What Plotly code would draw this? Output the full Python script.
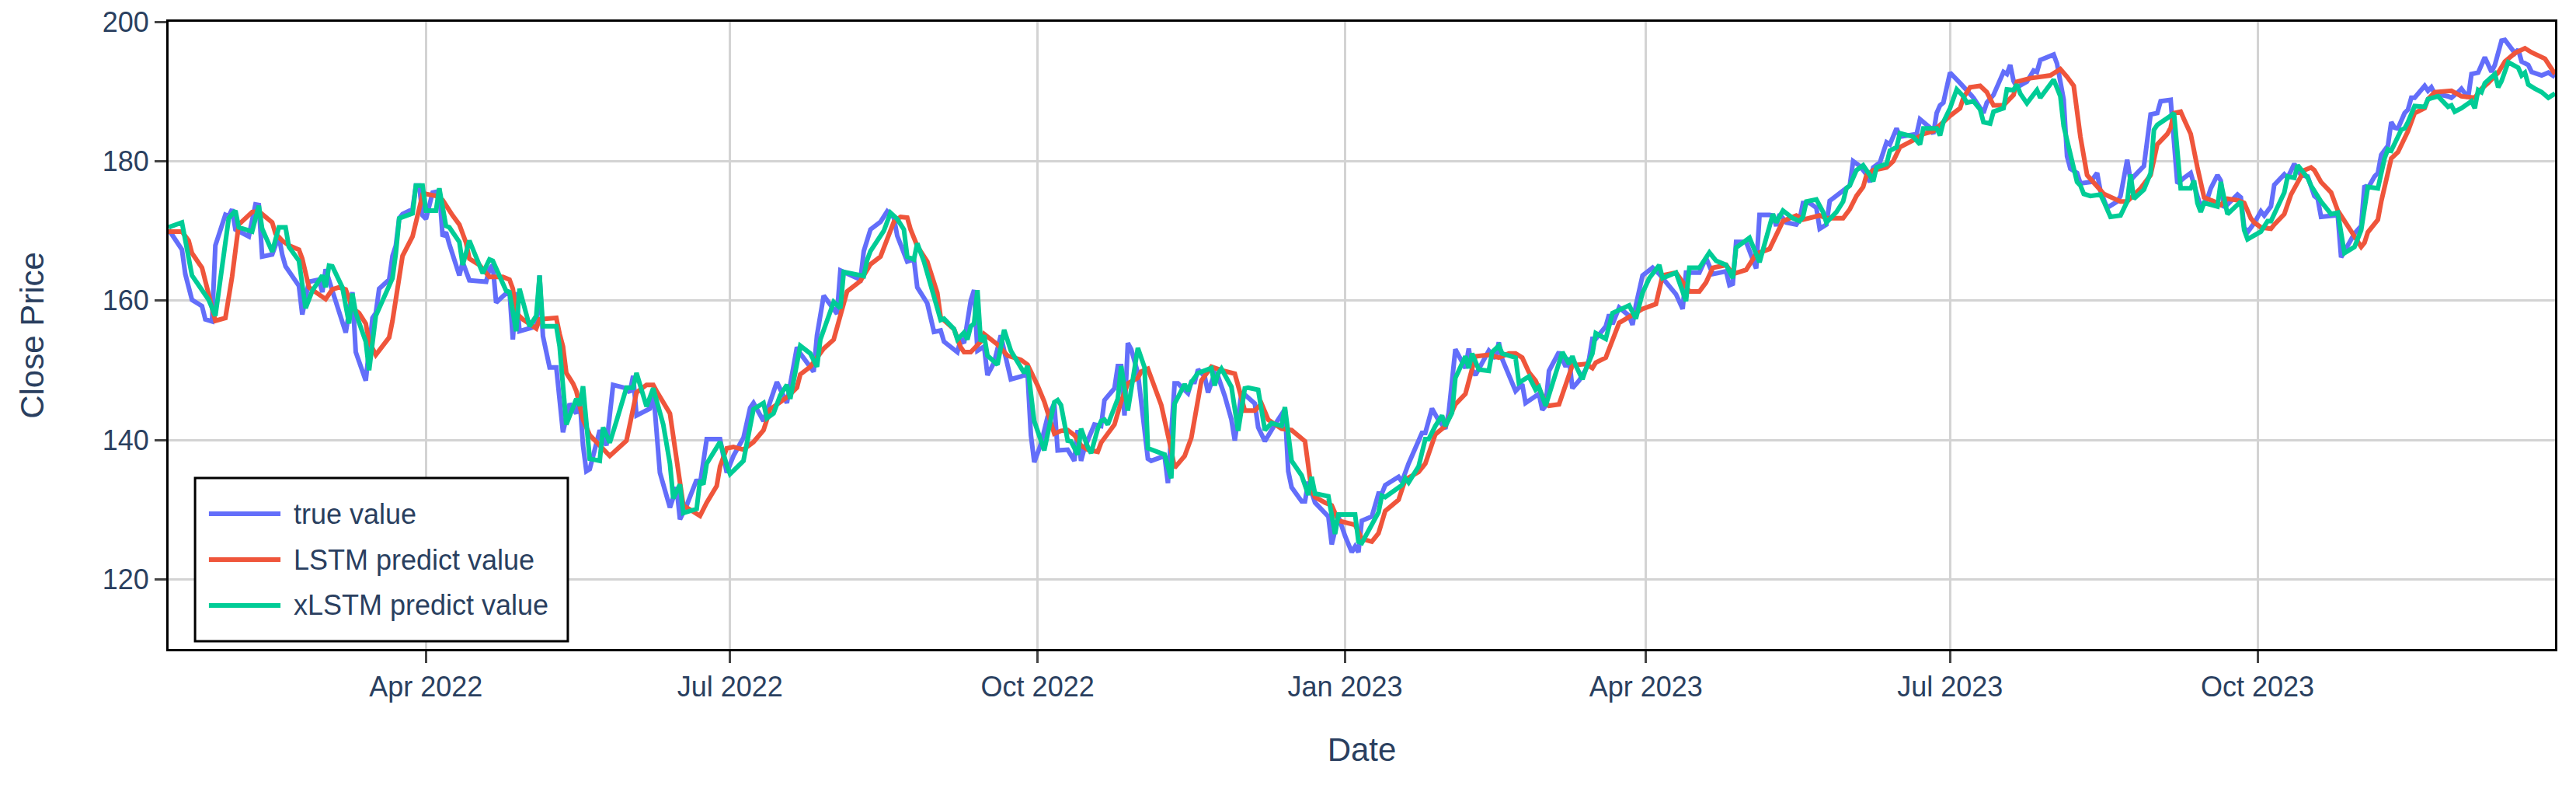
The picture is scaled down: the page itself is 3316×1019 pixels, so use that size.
import pandas as pd
import plotly.graph_objects as go

# day offsets counted from the first trading day in the test window
start = pd.Timestamp("2022-01-14")

true_days = [
    0, 4, 5, 7, 10, 11, 13, 14, 17, 18, 19, 20, 24, 26, 27, 28, 31, 33, 34, 35,
    39, 40, 42, 45, 46, 47, 49, 53, 55, 56, 59, 61, 62, 63, 66, 67, 68, 69, 70, 73,
    74, 75, 76, 77, 79, 81, 82, 83, 84, 87, 88, 90, 95, 96, 97, 98, 100, 102, 103, 104,
    105, 108, 110, 111, 112, 114, 116, 118, 120, 122, 123, 124, 125, 126, 129, 131, 133, 137, 138, 139,
    140, 144, 145, 147, 150, 152, 153, 155, 158, 159, 161, 165, 167, 169, 172, 174, 175, 178, 181, 182,
    185, 188, 189, 193, 194, 196, 200, 201, 207, 208, 210, 213, 215, 217, 218, 221, 223, 224, 227, 229,
    231, 232, 236, 237, 238, 240, 241, 242, 244, 245, 247, 249, 250, 252, 255, 257, 258, 259, 261, 263,
    265, 266, 269, 270, 271, 272, 273, 274, 277, 279, 280, 283, 284, 285, 286, 287, 288, 290, 292, 293,
    294, 298, 299, 301, 302, 305, 306, 307, 308, 310, 311, 313, 314, 316, 318, 319, 321, 322, 325, 326,
    328, 329, 331, 334, 335, 336, 339, 340, 341, 343, 345, 347, 348, 350, 352, 354, 355, 356, 357, 360,
    362, 363, 364, 368, 369, 371, 375, 376, 378, 380, 382, 383, 385, 388, 389, 390, 391, 395, 397, 398,
    399, 403, 405, 406, 410, 411, 412, 413, 416, 418, 419, 420, 422, 424, 425, 426, 427, 430, 431, 432,
    434, 437, 438, 439, 441, 444, 446, 451, 453, 454, 458, 460, 462, 466, 467, 468, 469, 472, 475, 476,
    479, 480, 481, 482, 484, 487, 488, 489, 491, 493, 494, 496, 497, 502, 503, 504, 506, 508, 509, 510,
    512, 514, 515, 517, 518, 523, 524, 527, 528, 529, 530, 531, 533, 536, 538, 540, 543, 544, 546, 549,
    550, 551, 552, 553, 556, 558, 559, 560, 564, 565, 567, 568, 569, 571, 572, 575, 577, 578, 580, 583,
    584, 586, 587, 588, 591, 593, 595, 596, 599, 601, 603, 605, 607, 608, 610, 611, 613, 614, 615, 617,
    619, 620, 621, 622, 624, 626, 627, 629, 630, 633, 634, 636, 638, 640, 642, 643, 644, 648, 649, 650,
    652, 654, 656, 657, 658, 660, 661, 662, 664, 665, 666, 667, 669, 670, 671, 672, 675, 676, 677, 678,
    682, 683, 685, 686, 688, 689, 691, 693, 695, 696, 698, 699, 702, 703, 704, 706, 707, 710, 712, 714,
]
true_vals = [
    170.2, 167.3, 163.8, 160.1, 159.2, 157.3, 157.0, 167.9, 172.3, 172.1, 173.1, 170.2, 169.2, 173.8, 173.7, 166.3, 166.6, 169.2, 166.6, 164.9,
    162.1, 158.0, 162.7, 163.0, 161.2, 164.5, 161.4, 155.4, 161.2, 152.6, 148.5, 157.5, 158.2, 161.7, 163.0, 166.4, 167.9, 171.8, 172.4, 173.1,
    176.5, 176.5, 172.2, 171.7, 175.5, 175.7, 169.2, 169.8, 168.1, 163.6, 165.5, 162.9, 162.7, 164.5, 165.1, 159.7, 160.6, 161.4, 154.4, 161.2,
    155.6, 156.0, 156.3, 163.6, 154.9, 150.4, 150.4, 141.1, 145.2, 143.8, 145.9, 139.2, 135.5, 135.8, 141.4, 139.2, 147.9, 147.4, 146.8, 149.2,
    143.5, 144.5, 147.2, 135.3, 130.3, 133.2, 128.6, 130.6, 134.3, 133.6, 140.1, 140.1, 135.3, 137.7, 140.3, 144.6, 145.3, 142.7, 146.6, 148.3,
    145.3, 153.3, 152.4, 149.8, 155.0, 160.7, 158.1, 164.3, 163.0, 167.1, 170.2, 171.3, 172.8, 171.9, 169.3, 165.6, 165.9, 161.9, 159.6, 155.5,
    155.7, 154.1, 152.6, 154.4, 153.9, 160.0, 161.5, 152.8, 153.4, 149.3, 151.1, 155.0, 152.8, 148.7, 149.1, 149.5, 140.7, 136.8, 139.4, 143.3,
    145.2, 138.5, 138.6, 137.7, 137.0, 141.4, 137.0, 138.8, 142.2, 142.0, 145.7, 147.4, 150.6, 150.6, 143.5, 153.9, 153.0, 149.6, 141.4, 137.3,
    137.0, 137.7, 133.8, 148.1, 148.1, 146.7, 148.3, 148.3, 150.1, 149.1, 146.8, 149.6, 149.1, 146.3, 142.9, 139.9, 146.7, 146.5, 145.2, 141.8,
    139.8, 140.7, 142.2, 144.4, 135.5, 133.2, 131.2, 131.2, 134.0, 131.0, 129.9, 129.0, 125.0, 129.0, 126.2, 123.9, 124.7, 123.9, 128.4, 129.0,
    132.3, 132.3, 133.5, 134.7, 134.0, 136.6, 141.0, 141.0, 144.5, 142.8, 141.6, 143.9, 153.0, 150.3, 153.1, 150.1, 149.3, 152.8, 151.7, 154.0,
    151.6, 147.0, 148.0, 145.3, 146.6, 144.3, 144.9, 149.9, 152.6, 150.5, 151.8, 147.4, 148.5, 150.1, 151.6, 154.5, 154.5, 156.3, 158.0, 156.6,
    159.0, 157.8, 156.5, 159.3, 163.6, 164.7, 163.8, 160.9, 158.8, 164.0, 164.0, 166.1, 163.8, 164.2, 162.2, 162.4, 168.4, 168.4, 164.6, 172.3,
    172.3, 172.2, 170.7, 172.4, 171.2, 170.9, 171.6, 174.0, 174.0, 173.3, 170.3, 170.9, 174.3, 176.3, 176.5, 180.0, 179.3, 178.1, 177.0, 179.1,
    179.8, 182.7, 182.4, 184.7, 183.5, 183.9, 186.0, 184.8, 183.9, 186.9, 188.0, 188.4, 192.7, 191.2, 190.2, 189.1, 186.9, 188.4, 189.5, 192.8,
    192.5, 193.8, 191.5, 190.6, 191.4, 193.0, 192.8, 194.5, 195.3, 194.0, 188.8, 180.7, 178.9, 178.3, 176.8, 177.0, 178.3, 175.7, 173.3, 174.2,
    175.0, 180.2, 177.2, 177.8, 179.3, 186.7, 186.9, 188.6, 188.8, 176.8, 177.6, 178.3, 175.0, 173.5, 174.6, 176.1, 178.0, 177.2, 173.3, 174.2,
    175.2, 174.8, 170.5, 169.8, 171.1, 172.8, 172.2, 173.5, 176.6, 178.1, 177.6, 179.6, 178.0, 177.8, 175.0, 174.6, 172.0, 172.2, 172.2, 166.2,
    167.9, 169.6, 170.7, 176.5, 176.1, 177.8, 178.3, 180.9, 182.2, 185.6, 184.8, 184.7, 186.9, 187.4, 189.1, 189.1, 190.8, 190.1, 190.6, 189.7,
    189.3, 189.1, 189.9, 190.4, 189.1, 192.5, 192.7, 194.9, 192.8, 193.8, 197.3, 197.4, 195.5, 196.0, 194.3, 193.8, 192.8, 192.3, 192.7, 192.1,
]

lstm_days = [
    0, 4, 6, 7, 10, 12, 14, 17, 19, 21, 25, 27, 29, 31, 32, 34, 36, 39, 40, 42,
    44, 47, 49, 51, 53, 55, 57, 59, 60, 62, 66, 67, 70, 73, 76, 77, 80, 82, 85, 87,
    89, 90, 93, 96, 100, 102, 103, 104, 106, 110, 111, 116, 117, 118, 119, 121, 122, 124, 126, 131,
    132, 137, 140, 143, 145, 146, 148, 150, 154, 159, 161, 164, 165, 167, 169, 172, 175, 178, 180, 183,
    185, 188, 189, 192, 196, 199, 202, 203, 207, 210, 213, 217, 219, 221, 222, 224, 227, 230, 231, 235,
    237, 238, 240, 243, 244, 248, 251, 255, 257, 259, 260, 262, 264, 265, 267, 269, 271, 273, 275, 278,
    279, 281, 283, 285, 287, 290, 291, 293, 295, 297, 300, 301, 304, 306, 309, 312, 315, 319, 320, 322,
    325, 327, 329, 333, 336, 340, 342, 343, 346, 348, 350, 355, 357, 360, 362, 364, 368, 370, 374, 376,
    379, 382, 385, 388, 391, 395, 398, 401, 403, 405, 407, 409, 412, 413, 416, 420, 424, 426, 427, 430,
    434, 437, 441, 445, 447, 451, 455, 458, 460, 462, 466, 468, 472, 475, 479, 481, 483, 487, 489, 494,
    496, 501, 503, 505, 507, 508, 510, 512, 514, 516, 518, 522, 525, 528, 530, 533, 536, 537, 539, 542,
    544, 546, 549, 552, 553, 557, 563, 565, 566, 568, 570, 572, 574, 579, 581, 584, 586, 590, 593, 595,
    598, 599, 600, 602, 603, 605, 607, 609, 612, 614, 615, 616, 619, 621, 623, 624, 626, 629, 630, 631,
    633, 635, 638, 639, 641, 642, 644, 647, 649, 652, 654, 656, 657, 658, 661, 662, 665, 667, 668, 670,
    672, 675, 676, 678, 683, 686, 690, 692, 694, 697, 699, 702, 705, 707, 711, 714,
]
lstm_vals = [
    169.9, 169.9, 168.6, 166.8, 164.7, 160.8, 157.1, 157.5, 163.4, 170.9, 172.7, 172.8, 172.0, 171.2, 169.6, 168.6, 167.9, 167.3, 166.0, 161.9,
    161.2, 160.2, 161.6, 161.9, 161.6, 158.9, 158.2, 156.7, 154.1, 152.2, 154.7, 157.1, 166.4, 169.2, 175.2, 175.3, 175.0, 174.4, 172.2, 170.9,
    168.3, 166.0, 165.1, 163.4, 163.4, 163.0, 161.7, 158.2, 157.3, 156.0, 157.3, 157.5, 155.2, 153.4, 149.6, 148.1, 147.0, 142.9, 140.7, 138.1,
    137.7, 139.9, 146.8, 147.9, 147.9, 147.0, 145.5, 143.8, 130.6, 129.1, 131.0, 133.4, 136.2, 138.8, 139.0, 138.6, 139.7, 141.4, 144.4, 145.5,
    146.1, 147.5, 149.4, 150.5, 153.1, 154.4, 159.3, 161.3, 162.8, 165.2, 166.3, 171.3, 172.0, 171.9, 170.2, 167.8, 165.6, 161.1, 157.6, 155.9,
    153.3, 152.6, 152.6, 154.1, 155.2, 153.7, 152.1, 151.5, 150.8, 148.9, 147.8, 145.5, 142.2, 140.9, 141.3, 141.4, 140.7, 139.2, 138.6, 138.3,
    139.6, 140.9, 142.2, 145.5, 148.1, 148.9, 149.8, 150.2, 147.8, 145.0, 138.5, 136.0, 137.7, 140.3, 148.5, 150.5, 150.0, 149.5, 147.8, 144.2,
    144.2, 145.2, 142.9, 141.6, 141.4, 139.8, 132.7, 131.8, 131.0, 130.6, 128.4, 127.8, 125.8, 125.4, 126.6, 129.8, 131.4, 134.3, 135.4, 136.6,
    140.8, 142.0, 145.1, 146.6, 152.0, 152.2, 151.8, 152.4, 152.4, 151.8, 149.7, 148.5, 145.3, 144.9, 145.1, 150.7, 150.9, 150.3, 151.1, 151.8,
    156.8, 157.6, 158.8, 159.5, 163.6, 164.0, 161.3, 161.3, 162.6, 164.7, 165.1, 163.8, 164.4, 166.7, 167.4, 169.4, 171.4, 172.2, 171.6, 172.2,
    171.8, 171.8, 173.1, 175.0, 176.3, 178.0, 178.7, 178.9, 179.1, 180.0, 182.0, 183.0, 183.9, 184.3, 185.2, 186.5, 187.6, 189.1, 190.6, 190.8,
    189.9, 188.0, 188.0, 189.5, 191.4, 191.9, 192.3, 193.0, 193.2, 192.1, 190.8, 183.5, 178.0, 175.3, 174.8, 174.2, 174.2, 176.1, 178.0, 182.4,
    183.9, 184.8, 186.9, 187.1, 186.0, 183.9, 179.1, 174.8, 174.2, 173.7, 174.2, 174.6, 174.4, 174.0, 171.8, 171.2, 170.5, 170.3, 170.9, 171.4,
    172.4, 175.2, 178.1, 178.7, 179.1, 178.7, 177.0, 175.5, 172.9, 170.5, 169.2, 167.7, 168.3, 169.8, 171.6, 174.2, 180.4, 181.3, 182.2, 184.3,
    186.9, 187.6, 188.9, 189.9, 190.1, 189.3, 189.1, 190.4, 191.2, 192.7, 194.3, 195.5, 196.2, 195.6, 194.7, 192.5,
]

xlstm_days = [
    0, 4, 7, 12, 14, 17, 18, 20, 21, 25, 27, 28, 31, 33, 35, 36, 39, 41, 43, 46,
    47, 48, 49, 52, 54, 55, 56, 59, 60, 62, 67, 68, 69, 73, 74, 76, 77, 80, 81, 83,
    84, 87, 88, 90, 94, 96, 97, 101, 102, 104, 105, 108, 110, 111, 112, 116, 117, 119, 121, 122,
    123, 124, 126, 129, 130, 132, 134, 137, 139, 140, 143, 145, 148, 150, 151, 153, 154, 158, 159, 160,
    161, 165, 167, 168, 172, 175, 178, 179, 181, 183, 185, 186, 189, 192, 194, 195, 199, 201, 202, 208,
    209, 210, 214, 216, 218, 220, 221, 223, 224, 226, 231, 232, 235, 236, 238, 239, 240, 241, 242, 243,
    244, 245, 248, 250, 252, 254, 256, 257, 259, 262, 265, 266, 267, 269, 270, 272, 273, 275, 276, 278,
    279, 280, 281, 284, 285, 287, 288, 290, 292, 293, 298, 300, 301, 304, 305, 306, 308, 312, 313, 314,
    315, 318, 320, 322, 323, 326, 328, 329, 330, 333, 334, 336, 339, 341, 342, 343, 347, 349, 350, 355,
    356, 357, 360, 362, 363, 364, 369, 370, 371, 374, 376, 377, 379, 381, 382, 384, 385, 388, 389, 390,
    392, 395, 396, 398, 399, 403, 404, 407, 409, 410, 412, 417, 419, 420, 421, 423, 424, 426, 427, 430,
    432, 434, 437, 439, 441, 443, 446, 447, 451, 454, 455, 458, 461, 463, 466, 468, 469, 473, 476, 480,
    481, 483, 486, 488, 489, 490, 493, 495, 496, 499, 501, 502, 503, 505, 507, 509, 510, 511, 514, 515,
    517, 518, 522, 524, 525, 529, 530, 531, 533, 535, 537, 538, 540, 542, 543, 545, 546, 549, 550, 552,
    553, 554, 556, 559, 560, 564, 566, 567, 571, 572, 573, 575, 578, 579, 581, 584, 586, 587, 588, 591,
    593, 594, 595, 599, 600, 602, 605, 606, 607, 608, 609, 613, 614, 616, 620, 621, 622, 626, 628, 629,
    631, 633, 634, 636, 637, 640, 641, 644, 647, 649, 651, 654, 656, 658, 661, 663, 664, 665, 668, 669,
    670, 672, 675, 676, 679, 682, 683, 684, 686, 689, 690, 691, 692, 693, 696, 697, 698, 700, 703, 704,
    705, 706, 708, 710, 712, 714,
]
xlstm_vals = [
    170.5, 171.2, 163.6, 160.1, 157.8, 167.5, 171.8, 172.9, 170.5, 169.9, 173.6, 170.3, 167.0, 170.5, 170.5, 167.7, 165.7, 158.9, 161.4, 163.6,
    161.9, 165.0, 164.9, 161.9, 156.7, 161.0, 158.2, 154.1, 150.0, 157.8, 163.2, 166.8, 171.8, 172.5, 176.5, 176.5, 172.9, 172.9, 176.1, 170.7,
    170.5, 168.4, 165.1, 168.6, 163.9, 165.9, 165.7, 161.4, 161.2, 155.6, 161.7, 156.3, 157.8, 163.6, 156.3, 156.3, 153.4, 142.2, 144.4, 145.9,
    144.9, 147.7, 137.3, 137.0, 141.8, 139.6, 142.7, 147.5, 147.5, 149.6, 144.8, 147.4, 142.2, 136.6, 131.6, 133.6, 129.5, 130.1, 134.2, 133.6,
    136.6, 139.7, 136.4, 135.1, 137.0, 144.4, 145.3, 143.1, 143.8, 146.4, 147.9, 145.9, 153.5, 152.4, 150.5, 154.4, 159.8, 158.9, 164.1, 163.5,
    165.8, 167.1, 170.0, 172.6, 171.7, 170.2, 166.3, 165.9, 168.2, 165.6, 157.2, 157.4, 155.9, 154.4, 155.4, 154.4, 156.3, 156.7, 161.5, 154.1,
    155.0, 152.1, 150.8, 155.8, 152.8, 151.1, 149.6, 150.6, 142.7, 138.5, 145.4, 145.7, 145.0, 139.9, 139.8, 137.9, 141.6, 139.0, 138.1, 141.6,
    142.7, 142.9, 142.2, 145.9, 150.6, 144.2, 147.2, 153.2, 150.4, 138.8, 137.9, 134.5, 145.2, 148.0, 147.0, 148.3, 149.6, 150.3, 147.8, 149.5,
    150.2, 147.6, 141.3, 147.4, 147.5, 147.2, 141.4, 142.0, 142.4, 142.0, 144.7, 137.0, 134.9, 132.1, 134.7, 132.3, 131.9, 126.5, 129.3, 129.3,
    125.4, 125.2, 128.0, 129.6, 132.0, 131.8, 133.5, 134.5, 133.9, 136.2, 140.1, 140.1, 142.0, 143.5, 142.0, 143.9, 148.9, 152.0, 150.3, 152.4,
    150.1, 149.9, 152.6, 153.5, 152.4, 151.8, 148.2, 149.1, 147.2, 147.6, 144.9, 152.6, 150.9, 152.0, 150.7, 148.7, 150.1, 152.4, 155.3, 154.5,
    158.2, 158.6, 159.3, 157.4, 161.1, 163.2, 165.1, 163.2, 164.0, 159.9, 164.7, 164.7, 166.9, 165.7, 165.1, 163.2, 167.6, 169.0, 165.5, 172.4,
    171.2, 172.9, 171.8, 171.4, 172.0, 174.2, 174.5, 172.7, 171.2, 172.7, 174.2, 176.1, 176.5, 178.7, 179.4, 178.0, 177.1, 179.1, 179.6, 181.5,
    182.0, 184.0, 183.5, 182.4, 184.7, 184.7, 183.7, 185.6, 187.6, 190.3, 189.3, 188.4, 188.6, 187.4, 185.6, 185.4, 187.1, 187.6, 190.3, 190.2,
    191.0, 189.7, 188.3, 190.2, 189.1, 191.7, 189.3, 185.0, 177.0, 176.5, 175.3, 175.0, 175.2, 174.2, 172.0, 172.2, 174.2, 178.1, 174.6, 175.9,
    178.3, 184.5, 185.2, 186.5, 186.9, 176.1, 176.1, 177.2, 174.0, 172.7, 174.0, 173.5, 177.0, 172.4, 174.2, 170.1, 168.8, 169.9, 171.4, 171.4,
    173.5, 175.5, 177.8, 177.6, 179.4, 177.6, 176.5, 174.2, 172.4, 172.6, 166.8, 167.7, 170.1, 176.3, 176.1, 180.4, 181.7, 181.5, 184.5, 184.7,
    185.6, 187.9, 187.8, 188.9, 189.3, 187.8, 188.0, 187.1, 187.6, 188.6, 187.6, 190.2, 189.9, 191.2, 192.5, 190.6, 191.5, 194.2, 193.4, 192.3,
    192.7, 191.0, 190.4, 189.9, 189.1, 189.7,
]

names = ["true value", "LSTM predict value", "xLSTM predict value"]
colors = ["#636efa", "#EF553B", "#00cc96"]


def to_dates(days):
    return start + pd.to_timedelta(days, unit="D")


series = [(true_days, true_vals), (lstm_days, lstm_vals), (xlstm_days, xlstm_vals)]

fig = go.Figure()
for (days, vals), name, color in zip(series, names, colors):
    fig.add_trace(go.Scatter(x=to_dates(days), y=vals, mode="lines", name=name,
                             line=dict(color=color, width=6), showlegend=False))

# legend drawn by hand so the sample lines get the long look of the original
fig.add_shape(type="rect", xref="paper", yref="paper", x0=0.0111, x1=0.1673, y0=0.0124, y1=0.2726,
              fillcolor="white", line=dict(color="black", width=3), layer="above")
legend_rows = [0.2156, 0.1425, 0.0694]
for name, color, yrow in zip(names, colors, legend_rows):
    fig.add_shape(type="line", xref="paper", yref="paper", x0=0.0169, x1=0.0469, y0=yrow, y1=yrow,
                  line=dict(color=color, width=6), layer="above")
    fig.add_annotation(xref="paper", yref="paper", x=0.0518, y=yrow, text=name, showarrow=False,
                       xanchor="left", yanchor="middle", font=dict(size=36, color="#2a3f5f"))

axis_style = dict(showline=True, linecolor="black", linewidth=3, mirror=True,
                  ticks="outside", ticklen=15, tickwidth=3, tickcolor="#444",
                  showgrid=True, gridcolor="lightgrey", gridwidth=3, zeroline=False,
                  tickfont=dict(size=36), automargin=False, ticklabeloverflow="allow")

fig.update_xaxes(title=dict(text="Date", font=dict(size=42), standoff=47),
                 dtick="M3", tick0="2022-01-01", tickformat="%b %Y", **axis_style)
fig.update_yaxes(title=dict(text="Close Price", font=dict(size=42), standoff=63),
                 range=[110, 200], dtick=20, tick0=120, **axis_style)

fig.update_layout(
    width=3316, height=1019,
    margin=dict(l=209, r=35, t=20, b=192),
    plot_bgcolor="white", paper_bgcolor="white",
    font=dict(family="Liberation Sans, Arial, sans-serif", color="#2a3f5f"),
)

fig.write_html("out.html")
